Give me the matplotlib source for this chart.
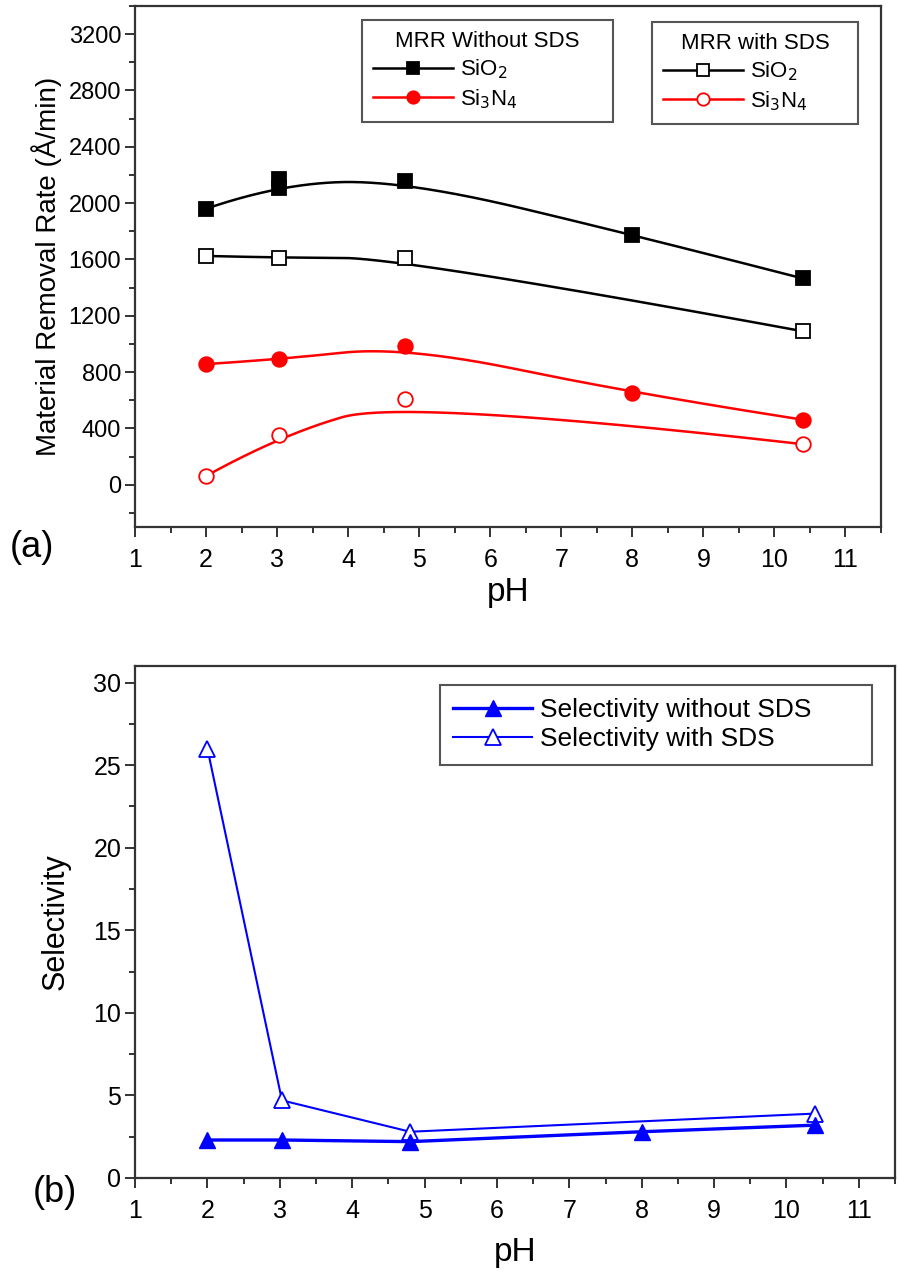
import numpy as np
import pandas as pd
import matplotlib
matplotlib.use('Agg')
import matplotlib.pyplot as plt
from matplotlib.lines import Line2D
from matplotlib.ticker import MultipleLocator

plt.rcParams['font.family'] = ['Liberation Sans', 'DejaVu Sans']

# ---- panel (a): material removal rate (A/min) ----
ph_sio2_wo = [2.0, 3.03, 3.03, 4.8, 8.0, 10.4]
mrr_sio2_wo = [1960, 2170, 2108, 2160, 1777, 1465]
ph_si3n4_wo = [2.0, 3.03, 4.8, 8.0, 10.4]
mrr_si3n4_wo = [857, 890, 985, 650, 462]
ph_sio2_w = [2.0, 3.03, 4.8, 10.4]
mrr_sio2_w = [1625, 1612, 1610, 1090]
ph_si3n4_w = [2.0, 3.03, 4.8, 10.4]
mrr_si3n4_w = [62, 350, 609, 288]

# ---- panel (b): selectivity ----
ph_sel_wo = [2.0, 3.03, 4.8, 8.0, 10.4]
sel_wo = [2.3, 2.3, 2.2, 2.8, 3.2]
ph_sel_w = [2.0, 3.03, 4.8, 10.4]
sel_w = [26.0, 4.7, 2.8, 3.9]

BLACK = '#000000'
RED = '#ff0000'
BLUE = '#0000ff'
SPINE = '#333333'


def bspline2(x, y, n=120):
    """Clamped quadratic B-spline with the (x-averaged) data as control points."""
    d = pd.DataFrame({'x': x, 'y': y}).groupby('x', sort=True).mean()
    P = np.column_stack([d.index.values, d['y'].values]).astype(float)
    m = len(P)
    t = np.linspace(0, 1, n)[:, None]
    segs = []
    for i in range(m - 2):
        a = P[i] if i == 0 else (P[i] + P[i + 1]) / 2
        b = P[i + 1]
        c = P[i + 2] if i == m - 3 else (P[i + 1] + P[i + 2]) / 2
        segs.append((1 - t) ** 2 * a + 2 * (1 - t) * t * b + t ** 2 * c)
    s = np.vstack(segs)
    return s[:, 0], s[:, 1]


def style_axes(ax, ysize):
    for sp in ax.spines.values():
        sp.set_color(SPINE)
        sp.set_linewidth(1.6)
    ax.tick_params(which='both', direction='out', top=False, right=False,
                   color=SPINE, width=1.4)
    ax.tick_params(which='major', length=7)
    ax.tick_params(which='minor', length=4)
    ax.tick_params(axis='x', labelsize=18, pad=8)
    ax.tick_params(axis='y', labelsize=ysize, pad=3)
    ax.xaxis.set_major_locator(MultipleLocator(1))
    ax.xaxis.set_minor_locator(MultipleLocator(0.5))


fig = plt.figure(figsize=(8.99, 12.8), dpi=100)

# ---------------- (a) ----------------
ax1 = fig.add_axes([0.1502, 0.5883, 0.8298, 0.4070])
series_a = [
    (ph_sio2_wo, mrr_sio2_wo, BLACK, 's', BLACK, 10),
    (ph_sio2_w, mrr_sio2_w, BLACK, 's', 'white', 10),
    (ph_si3n4_wo, mrr_si3n4_wo, RED, 'o', RED, 10.5),
    (ph_si3n4_w, mrr_si3n4_w, RED, 'o', 'white', 10.5),
]
handles_a = []
for x, y, col, mk, fc, ms in series_a:
    sx, sy = bspline2(x, y)
    ax1.plot(sx, sy, color=col, lw=1.8, zorder=2)
    ax1.plot(x, y, ls='none', marker=mk, ms=ms, mfc=fc, mec=col, mew=1.3, zorder=3)
    handles_a.append(Line2D([], [], color=col, lw=1.8, marker=mk, ms=ms * 0.85,
                            mfc=fc, mec=col, mew=1.3))

ax1.set_xlim(1, 11.5)
ax1.set_ylim(-300, 3400)
ax1.yaxis.set_major_locator(MultipleLocator(400))
ax1.yaxis.set_minor_locator(MultipleLocator(200))
ax1.set_yticks(np.arange(0, 3201, 400))
style_axes(ax1, 17)
ax1.set_xlabel('pH', fontsize=24, labelpad=4)
ax1.set_ylabel('Material Removal Rate (Å/min)', fontsize=20, labelpad=5)

leg_kw = dict(loc='upper left', mode='expand', fancybox=False, framealpha=1,
              edgecolor='#555555', fontsize=16, title_fontsize=16,
              handlelength=3.6, handletextpad=0.3, labelspacing=0.25,
              borderpad=0.5, borderaxespad=0)
lab_a = ['SiO$_2$', 'Si$_3$N$_4$']
leg1 = ax1.legend(handles_a[0::2], lab_a, title='MRR Without SDS',
                  bbox_to_anchor=(0.304, 0.724, 0.337, 0.249), **leg_kw)
leg1.get_frame().set_linewidth(1.5)
ax1.add_artist(leg1)
leg2 = ax1.legend(handles_a[1::2], lab_a, title='MRR with SDS',
                  bbox_to_anchor=(0.693, 0.724, 0.276, 0.245), **leg_kw)
leg2.get_frame().set_linewidth(1.5)
fig.text(0.011, 0.572, '(a)', fontsize=26, va='center')

# ---------------- (b) ----------------
ax2 = fig.add_axes([0.1502, 0.0797, 0.8454, 0.4000])
ax2.plot(ph_sel_wo, sel_wo, color=BLUE, lw=2.4, marker='^', ms=11,
         mfc=BLUE, mec=BLUE, label='Selectivity without SDS', zorder=3)
ax2.plot(ph_sel_w, sel_w, color=BLUE, lw=1.5, marker='^', ms=11,
         mfc='white', mec=BLUE, mew=1.3, label='Selectivity with SDS', zorder=2)
ax2.set_xlim(1, 11.5)
ax2.set_ylim(0, 31)
ax2.yaxis.set_major_locator(MultipleLocator(5))
ax2.yaxis.set_minor_locator(MultipleLocator(2.5))
style_axes(ax2, 18)
ax2.set_xlabel('pH', fontsize=24, labelpad=10)
ax2.set_ylabel('Selectivity', fontsize=22, labelpad=16)
leg3 = ax2.legend(loc='upper left', bbox_to_anchor=(0.401, 0.760, 0.569, 0.203),
                  mode='expand', fancybox=False, framealpha=1, edgecolor='#555555',
                  fontsize=19, handlelength=3.0, handletextpad=0.3,
                  labelspacing=0.2, borderpad=0.5, borderaxespad=0)
leg3.get_frame().set_linewidth(1.5)
fig.text(0.036, 0.068, '(b)', fontsize=26, va='center')

fig.savefig('out.png', dpi=100)
